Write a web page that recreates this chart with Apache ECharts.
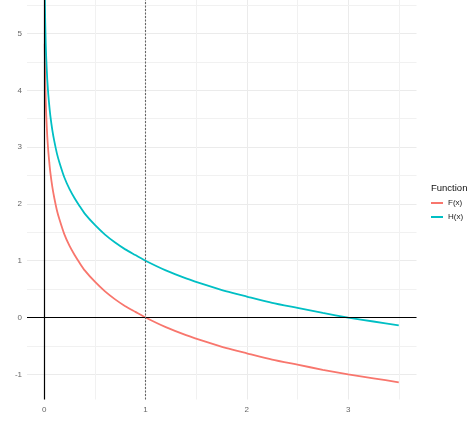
<!DOCTYPE html>
<html lang="en">
<head>
    <meta charset="UTF-8">
    <title>F(x) and H(x)</title>
    <script src="https://cdn.jsdelivr.net/npm/echarts@6/dist/echarts.min.js"></script>
    <style>
        html, body { margin: 0; padding: 0; background: #ffffff; }
        #chart { width: 474px; height: 428px; }
    </style>
</head>
<body>
<div id="chart"></div>
<script>
    let xs = [0.005, 0.0075, 0.01, 0.015, 0.02, 0.03, 0.04, 0.05, 0.06, 0.08, 0.1, 0.125, 0.15, 0.2, 0.25,
        0.3, 0.35, 0.4, 0.5, 0.6, 0.7, 0.8, 0.9, 1.0, 1.2, 1.4, 1.6, 1.8, 2.0, 2.25, 2.5, 2.75, 3.0, 3.25, 3.5];
    let fVals = [4.82, 4.45, 4.19, 3.82, 3.56, 3.19, 2.93, 2.73, 2.56, 2.30, 2.10, 1.89, 1.73, 1.46, 1.26,
        1.10, 0.96, 0.83, 0.63, 0.46, 0.32, 0.20, 0.10, 0.00, -0.17, -0.31, -0.43, -0.54, -0.63, -0.74, -0.83, -0.92, -1.00, -1.07, -1.14];
    let hVals = [5.82, 5.45, 5.19, 4.82, 4.56, 4.19, 3.93, 3.73, 3.56, 3.30, 3.10, 2.89, 2.73, 2.46, 2.26,
        2.10, 1.96, 1.83, 1.63, 1.46, 1.32, 1.20, 1.10, 1.00, 0.83, 0.69, 0.57, 0.46, 0.37, 0.26, 0.17, 0.08, 0.00, -0.07, -0.14];
    let seriesNames = ['F(x)', 'H(x)'];

    // tick labels and grid lines
    let xTicks = [0, 1, 2, 3];
    let xMinor = [0.5, 1.5, 2.5, 3.5];
    let yTicks = [-1, 0, 1, 2, 3, 4, 5];
    let yMinor = [-0.5, 0.5, 1.5, 2.5, 3.5, 4.5, 5.5];
    let refX = 1;   // dashed vertical line

    let chart = echarts.init(document.getElementById('chart'));

    let pairs = (ys) => xs.map((x, i) => [x, ys[i]]);
    let vlines = (vals) => vals.map(v => ({xAxis: v}));
    let hlines = (vals) => vals.map(v => ({yAxis: v}));

    let option = {
        backgroundColor: '#ffffff',
        animation: false,
        textStyle: {fontFamily: 'Liberation Sans, Arial, sans-serif'},
        title: {
            text: 'Function',
            left: 431,
            top: 183,
            padding: 0,
            textStyle: {fontSize: 9.5, fontWeight: 'normal', color: '#111111'}
        },
        legend: {
            data: seriesNames,
            orient: 'vertical',
            left: 431,
            top: 198,
            padding: 0,
            itemWidth: 12,
            itemHeight: 2,
            itemGap: 4,
            icon: 'rect',
            textStyle: {fontSize: 8, color: '#222222', lineHeight: 10}
        },
        grid: {left: 27, right: 57.5, top: 0, bottom: 28.5, containLabel: false},
        xAxis: {
            type: 'value',
            min: -0.17,
            max: 3.675,
            axisLine: {show: false},
            axisTick: {show: false},
            splitLine: {show: false},
            axisLabel: {customValues: xTicks, color: '#666666', fontSize: 8, margin: 6}
        },
        yAxis: {
            type: 'value',
            min: -1.443,
            max: 5.59,
            axisLine: {show: false},
            axisTick: {show: false},
            splitLine: {show: false},
            axisLabel: {customValues: yTicks, color: '#666666', fontSize: 8, margin: 5}
        },
        series: [
            {   // panel grid, major
                type: 'line',
                data: [],
                z: 0,
                silent: true,
                markLine: {
                    z: 0,
                    silent: true,
                    symbol: 'none',
                    label: {show: false},
                    lineStyle: {color: '#ebebeb', width: 1, type: 'solid'},
                    data: vlines(xTicks).concat(hlines(yTicks))
                }
            },
            {   // panel grid, minor
                type: 'line',
                data: [],
                z: 0,
                silent: true,
                markLine: {
                    z: 0,
                    silent: true,
                    symbol: 'none',
                    label: {show: false},
                    lineStyle: {color: '#f1f1f1', width: 1, type: 'solid'},
                    data: vlines(xMinor).concat(hlines(yMinor))
                }
            },
            {
                name: seriesNames[0],
                type: 'line',
                data: pairs(fVals),
                showSymbol: false,
                smooth: 0.2,
                z: 3,
                color: '#F8766D',
                lineStyle: {width: 1.8}
            },
            {
                name: seriesNames[1],
                type: 'line',
                data: pairs(hVals),
                showSymbol: false,
                smooth: 0.2,
                z: 3,
                color: '#00BFC4',
                lineStyle: {width: 1.8}
            },
            {   // reference lines
                type: 'line',
                data: [],
                z: 4,
                silent: true,
                markLine: {
                    z: 4,
                    silent: true,
                    symbol: 'none',
                    label: {show: false},
                    data: [
                        {xAxis: 0, lineStyle: {color: '#000000', width: 1.2, type: 'solid'}},
                        {yAxis: 0, lineStyle: {color: '#000000', width: 1.2, type: 'solid'}},
                        {xAxis: refX, lineStyle: {color: '#666666', width: 1.1, type: [2, 1.5]}}
                    ]
                }
            }
        ]
    };
    chart.setOption(option);
</script>
</body>
</html>
